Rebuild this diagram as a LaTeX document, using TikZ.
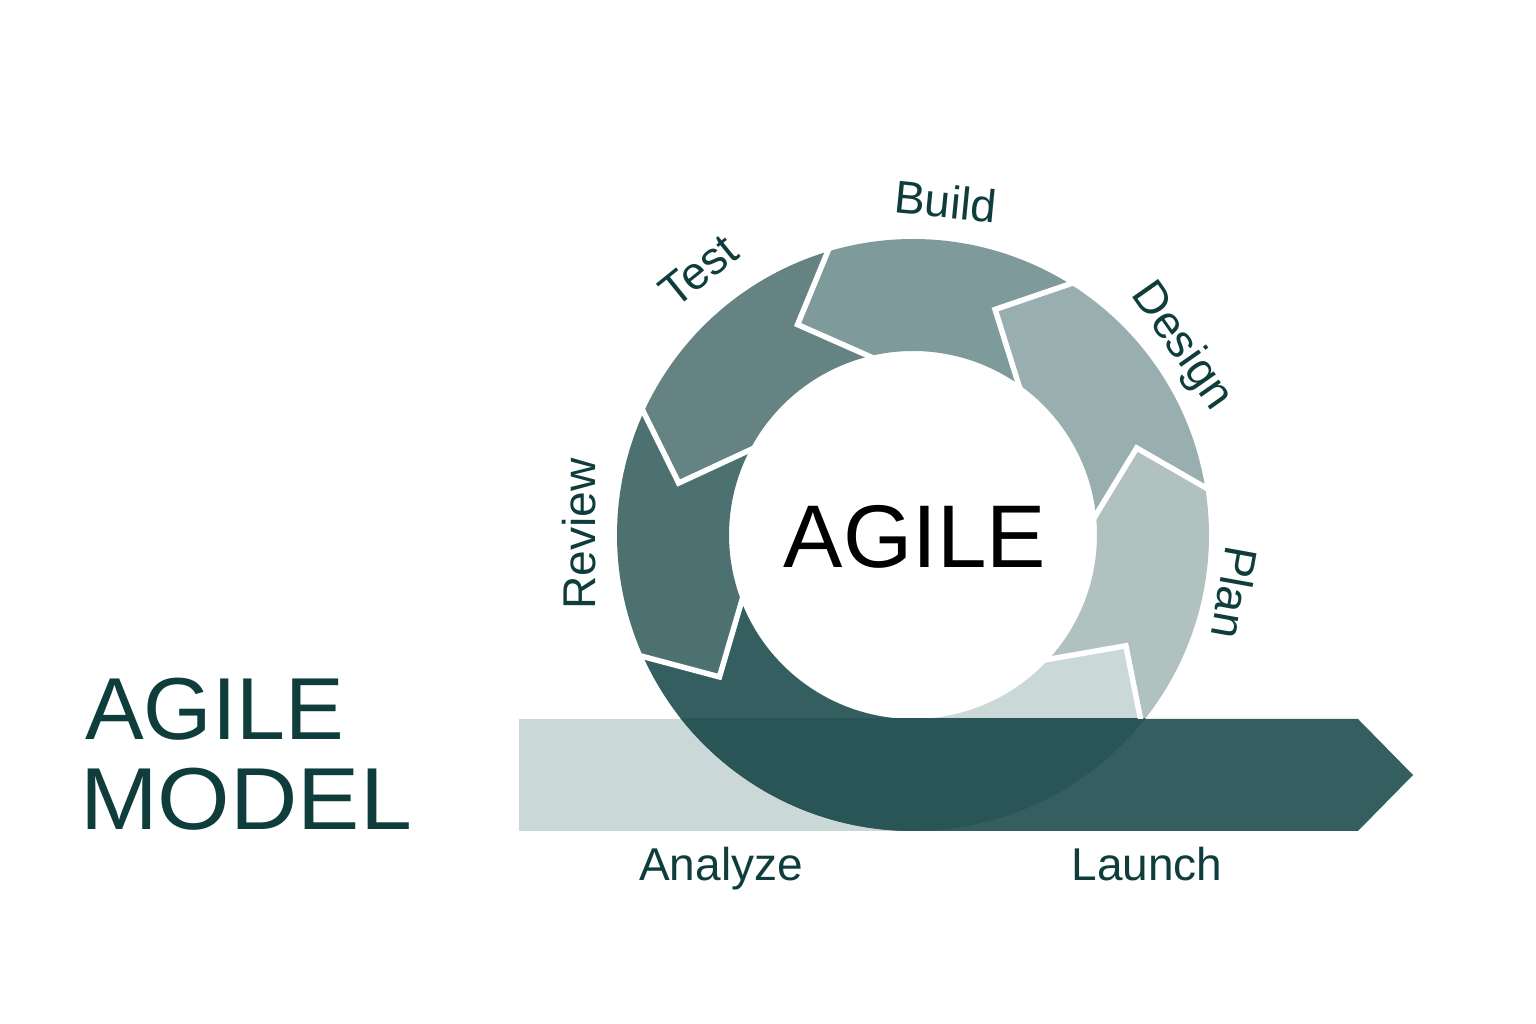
\documentclass[tikz,border=0pt]{standalone}
\usepackage{fontspec}
\setmainfont{Liberation Sans}
\usetikzlibrary{calc}
\definecolor{cPlan}{HTML}{B0C1C0}
\definecolor{cDesign}{HTML}{99AEAE}
\definecolor{cBuild}{HTML}{7E9A9A}
\definecolor{cTest}{HTML}{658383}
\definecolor{cReview}{HTML}{4D7171}
\definecolor{cLight}{HTML}{CAD8D7}
\definecolor{cDark}{HTML}{345E5F}
\definecolor{cDeep}{HTML}{2A5556}
\definecolor{cLabel}{HTML}{0E3D3C}
\newcommand\RingO{296}
\newcommand\RingI{184}
\newcommand\RingM{240}
% segment from outer angle #1 to outer angle #2 (ccw), colour #3
\newcommand\ringseg[3]{%
  \fill[#3] (#1:\RingO) arc[start angle=#1, end angle=#2, radius=\RingO]
    -- ({#2+12}:\RingM) -- ({#2-3}:\RingI)
    arc[start angle={#2-3}, end angle={#1-3}, radius=\RingI]
    -- ({#1+12}:\RingM) -- cycle;}
\newcommand\ringgap[1]{%
  \draw[gapline] ($({#1+12}:\RingM)!1.25!(#1:\RingO)$) -- ({#1+12}:\RingM)
    -- ($({#1+12}:\RingM)!1.25!({#1-3}:\RingI)$);}
\tikzset{
  gapline/.style={draw=white, line width=5.5pt, line join=miter, line cap=butt},
  lbl/.style={font=\fontsize{46}{46}\selectfont, text=cLabel, inner sep=0pt,
    text height=32.5pt, text depth=0pt, anchor=center},
  bigtitle/.style={font=\fontsize{88}{88}\selectfont, text=cLabel, inner sep=0pt, anchor=base west},
  hub/.style={font=\fontsize{89}{89}\selectfont, text=black, inner sep=0pt, anchor=base}
}
\begin{document}
\begin{tikzpicture}[x=1pt,y=1pt]
\useasboundingbox (0,0) rectangle (1536,1024);
\fill[white] (0,0) rectangle (1536,1024);
\begin{scope}[shift={(913,489)}]
  % light part of the bar
  \fill[cLight] (-394,-184) rectangle (0,-296);
  % ring segments
  \ringseg{320.5}{369.25}{cPlan}
  \ringseg{369.25}{418}{cDesign}
  \ringseg{418}{466.75}{cBuild}
  \ringseg{466.75}{515.5}{cTest}
  \ringseg{515.5}{564.25}{cReview}
  % lightest segment (starts under the bar)
  \fill[cLight] (270:\RingO) arc[start angle=270, end angle=320.5, radius=\RingO]
    -- (332.5:\RingM) -- (317.5:\RingI)
    arc[start angle=317.5, end angle=270, radius=\RingI] -- cycle;
  % dark segment merging into the arrow bar
  \fill[cDark] (204.25:\RingO) arc[start angle=204.25, end angle=270, radius=\RingO]
    -- (445,-296) -- (500,-240) -- (445,-184) -- (0,-184)
    arc[start angle=270, end angle=201.25, radius=\RingI]
    -- (216.25:\RingM) -- cycle;
  % ring seen through the bar
  \begin{scope}
    \clip (-394,-184) rectangle (500,-296);
    \fill[cDeep] (0,0) circle[radius=\RingO];
  \end{scope}
  % white gaps between segments
  \begin{scope}
    \clip (-500,-184) rectangle (600,420);
    \ringgap{320.5}
    \ringgap{369.25}
    \ringgap{418}
    \ringgap{466.75}
    \ringgap{515.5}
    \ringgap{564.25}
  \end{scope}
  % labels around the ring
  \node[lbl, rotate=-5.6] (build) at (84.4:335) {Build};
  \node[lbl, rotate=39] (test) at (129:341) {Test};
  \node[lbl, rotate=89.8] (review) at (179.8:334) {Review};
  \node[lbl, rotate=-54.9] (design) at (35.1:332) {Design};
  \node[lbl, rotate=-100.2] (plan) at (-10.2:327) {Plan};
\end{scope}
\node[hub] (agile) at (915,456) {AGILE};
\node[bigtitle] (title1) at (85,284) {AGILE};
\node[bigtitle, xscale=1.06] (title2) at (80,194) {MODEL};
\node[lbl, anchor=base] (analyze) at (721,143) {Analyze};
\node[lbl, anchor=base] (launch) at (1147,143) {Launch};
\end{tikzpicture}
\end{document}
